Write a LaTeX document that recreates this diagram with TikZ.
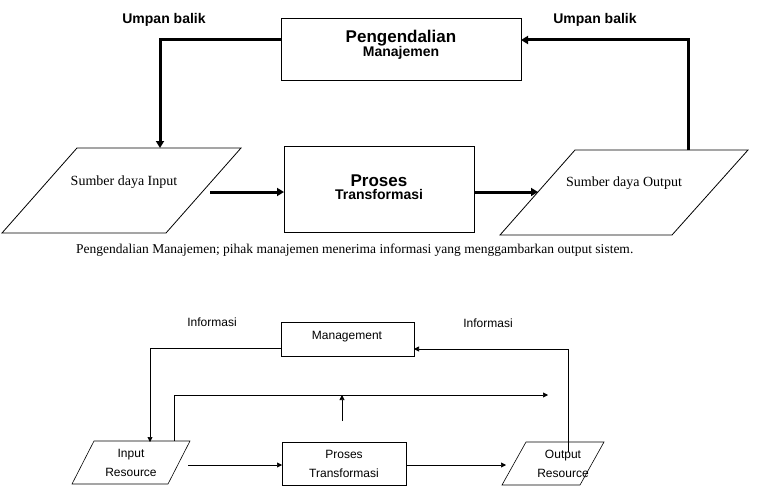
\documentclass[tikz,border=0pt]{standalone}
\usepackage{fontspec}
\setmainfont{Liberation Serif}
\newfontfamily\mysf{Liberation Sans}
\usetikzlibrary{arrows.meta}
\begin{document}
\begin{tikzpicture}[x=1pt,y=-1pt,
  thick/.style={line width=3pt,-{Triangle[length=7pt,width=8pt]}},
  thin/.style={line width=0.6pt,-{Triangle[length=5pt,width=5pt]}},
  box/.style={draw,line width=0.8pt}]
\useasboundingbox (0,0) rectangle (762,503);
% top
\draw[box] (281,18) rectangle (521,80);
\node (mg) at (401,45) {\mysf\bfseries\begin{tabular}{c}{\fontsize{17}{19}\selectfont Pengendalian}\\{\fontsize{14}{16}\selectfont Manajemen}\end{tabular}};
\draw[box] (284,146) rectangle (474,232);
\node (pr) at (379,189) {\mysf\bfseries\begin{tabular}{c}{\fontsize{17}{21}\selectfont Proses}\\{\fontsize{14}{16}\selectfont Transformasi}\end{tabular}};
\draw[box] (77,148) -- (241,148) -- (166,233) -- (2,233) -- cycle;
\node at (124,182) {\fontsize{14}{16}\selectfont Sumber daya Input};
\draw[box] (575,150) -- (748,150) -- (672,235) -- (500,235) -- cycle;
\node at (624,183) {\fontsize{14}{16}\selectfont Sumber daya Output};
\draw[thick] (281,40) -- (160,40) -- (160,148);
\draw[thick] (688,150) -- (688,40) -- (521,40);
\draw[thick] (210,192) -- (284,192);
\draw[thick] (474,192) -- (538,192);
\node at (164,20) {\mysf\bfseries\fontsize{14}{16}\selectfont Umpan balik};
\node at (595,20) {\mysf\bfseries\fontsize{14}{16}\selectfont Umpan balik};
\node[anchor=north west,inner sep=0pt,text width=604pt,align=justify] at (76,244) {\fontsize{13.5}{30}\selectfont Pengendalian Manajemen; pihak manajemen menerima informasi yang menggambarkan output sistem.};
% bottom
\draw[box,line width=0.6pt] (281,322) rectangle (414,356);
\node at (347,337) {\mysf\fontsize{12}{14}\selectfont Management};
\draw[box,line width=0.6pt] (282,442) rectangle (406,485);
\node at (344,464) {\mysf\fontsize{12}{19}\selectfont\begin{tabular}{c}Proses\\Transformasi\end{tabular}};
\draw[box,line width=0.6pt] (94,441) -- (190,441) -- (168,484) -- (72,484) -- cycle;
\node at (131,463) {\mysf\fontsize{12}{19}\selectfont\begin{tabular}{c}Input\\Resource\end{tabular}};
\draw[box,line width=0.6pt] (526,442) -- (604,442) -- (580,485) -- (502,485) -- cycle;
\node at (563,464) {\mysf\fontsize{12}{19}\selectfont\begin{tabular}{c}Output\\Resource\end{tabular}};
\draw[thin] (281,348) -- (150,348) -- (150,442);
\draw[thin] (568,452) -- (568,349) -- (414,349);
\draw[thin] (188,465) -- (282,465);
\draw[thin] (406,465) -- (506,465);
\draw[thin] (174,441) -- (174,395) -- (548,395);
\draw[thin] (342,421) -- (342,395);
\node at (212,322) {\mysf\fontsize{12}{14}\selectfont Informasi};
\node at (488,323) {\mysf\fontsize{12}{14}\selectfont Informasi};
\end{tikzpicture}
\end{document}
